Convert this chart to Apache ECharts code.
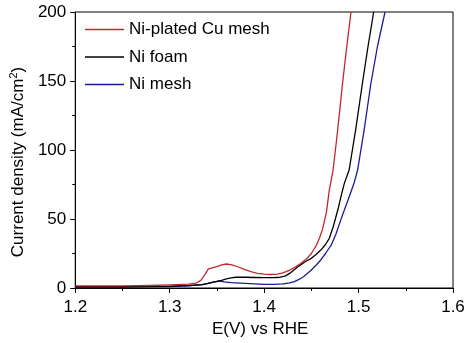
<!DOCTYPE html>
<html>
<head>
<meta charset="utf-8">
<script src="https://cdn.jsdelivr.net/npm/echarts@6/dist/echarts.min.js"></script>
<style>
  html, body { margin: 0; padding: 0; background: #fff; }
  #chart { width: 474px; height: 343px; }
</style>
</head>
<body>
<div id="chart"></div>
<script>
// Polarisation curves: potential (V vs RHE) and current density (mA/cm2)
const seriesNames = ['Ni-plated Cu mesh', 'Ni foam', 'Ni mesh'];
const seriesColors = ['#c0282e', '#000000', '#1a1a9a'];

const cuMeshV = [1.20, 1.25, 1.28, 1.30, 1.32, 1.328, 1.333, 1.337, 1.341, 1.345, 1.350, 1.355, 1.360, 1.366, 1.372, 1.379, 1.386, 1.393, 1.40, 1.407, 1.414, 1.420, 1.427, 1.433, 1.439, 1.445, 1.45, 1.455, 1.459, 1.462, 1.466, 1.469, 1.473, 1.4775, 1.483, 1.487, 1.492];
const cuMeshJ = [1.5, 1.5, 1.8, 2.2, 2.8, 3.6, 5.5, 9.5, 13.8, 14.6, 15.5, 16.8, 17.4, 16.8, 15.4, 13.5, 11.8, 10.6, 10.0, 9.8, 10.0, 11.0, 13.0, 15.2, 17.9, 21.2, 25, 30.5, 37, 43, 55, 71, 85.5, 112, 148, 172, 200];

const niFoamV = [1.20, 1.25, 1.30, 1.32, 1.334, 1.340, 1.345, 1.350, 1.355, 1.360, 1.365, 1.37, 1.38, 1.39, 1.40, 1.41, 1.417, 1.422, 1.428, 1.436, 1.443, 1.45, 1.455, 1.46, 1.465, 1.469, 1.473, 1.478, 1.482, 1.485, 1.490, 1.497, 1.504, 1.510, 1.516];
const niFoamJ = [1, 1, 1.3, 1.8, 2.5, 3.2, 4, 4.8, 5.6, 6.6, 7.4, 7.8, 7.8, 7.6, 7.5, 7.5, 7.8, 8.6, 11, 15.5, 18.8, 21.5, 24.3, 27.5, 31.5, 36, 44, 56.5, 68, 76, 85.5, 115, 148, 175, 200];

const niMeshV = [1.20, 1.25, 1.30, 1.32, 1.335, 1.345, 1.352, 1.358, 1.365, 1.38, 1.39, 1.40, 1.41, 1.42, 1.427, 1.432, 1.437, 1.442, 1.446, 1.45, 1.455, 1.46, 1.465, 1.471, 1.476, 1.481, 1.486, 1.49, 1.495, 1.499, 1.506, 1.513, 1.520, 1.528];
const niMeshJ = [0.5, 0.5, 1, 1.5, 2.5, 4, 5, 4.4, 3.9, 3.4, 3.0, 2.6, 2.6, 3.0, 3.7, 4.6, 6.2, 8.3, 10.6, 13, 16.5, 20.3, 25.0, 31, 39, 49, 58.5, 66, 75.5, 85.5, 115, 148, 175, 200];

const xTicks = [1.2, 1.3, 1.4, 1.5, 1.6];
const yTicks = [0, 50, 100, 150, 200];

function pairs(xs, ys) { return xs.map((x, i) => [x, ys[i]]); }
const curves = [pairs(cuMeshV, cuMeshJ), pairs(niFoamV, niFoamJ), pairs(niMeshV, niMeshJ)];

const font = 'Liberation Sans, Arial, sans-serif';
const chart = echarts.init(document.getElementById('chart'), null, { renderer: 'canvas' });

const axisCommon = {
  axisLine: { show: true, onZero: false, lineStyle: { color: '#000', width: 1 } },
  axisTick: { show: true, inside: false, length: 5, lineStyle: { color: '#000' } },
  minorTick: { show: true, splitNumber: 2, length: 3, lineStyle: { color: '#000' } },
  splitLine: { show: false },
};

chart.setOption({
  animation: false,
  backgroundColor: '#fff',
  grid: { left: 72, right: 21, top: 12, bottom: 55, show: true, borderColor: '#000', borderWidth: 1, containLabel: false },
  legend: {
    orient: 'vertical',
    left: 80, top: 16,
    icon: 'rect',
    itemWidth: 39, itemHeight: 1.5, itemGap: 10.5,
    data: seriesNames,
    textStyle: { color: '#000', fontSize: 17, fontFamily: font, lineHeight: 17 },
  },
  xAxis: Object.assign({}, axisCommon, {
    type: 'value',
    min: xTicks[0], max: xTicks[xTicks.length - 1], interval: 0.1,
    name: 'E(V) vs RHE', nameLocation: 'middle', nameGap: 28,
    nameTextStyle: { color: '#000', fontSize: 17, fontFamily: font, padding: [0, 8, 0, 0] },
    axisLabel: { color: '#000', fontSize: 17, fontFamily: font, margin: 11, formatter: v => v.toFixed(1) },
  }),
  yAxis: Object.assign({}, axisCommon, {
    type: 'value',
    min: yTicks[0], max: yTicks[yTicks.length - 1], interval: 50,
    name: 'Current density (mA/cm{sup|2})', nameLocation: 'middle', nameGap: 43,
    nameTextStyle: {
      color: '#000', fontSize: 17, fontFamily: font, padding: [0, 24, 0, 0],
      rich: { sup: { fontSize: 11, verticalAlign: 'top', padding: [0, 0, 10, 0], fontFamily: font, color: '#000' } },
    },
    axisLabel: { color: '#000', fontSize: 17, fontFamily: font, margin: 9 },
  }),
  series: seriesNames.map((name, i) => ({
    name,
    type: 'line',
    data: curves[i],
    smooth: false,
    symbol: 'none',
    clip: true,
    z: 3 - i,
    lineStyle: { color: seriesColors[i], width: 1.3, join: 'round' },
    itemStyle: { color: seriesColors[i] },
  })),
});
</script>
</body>
</html>
